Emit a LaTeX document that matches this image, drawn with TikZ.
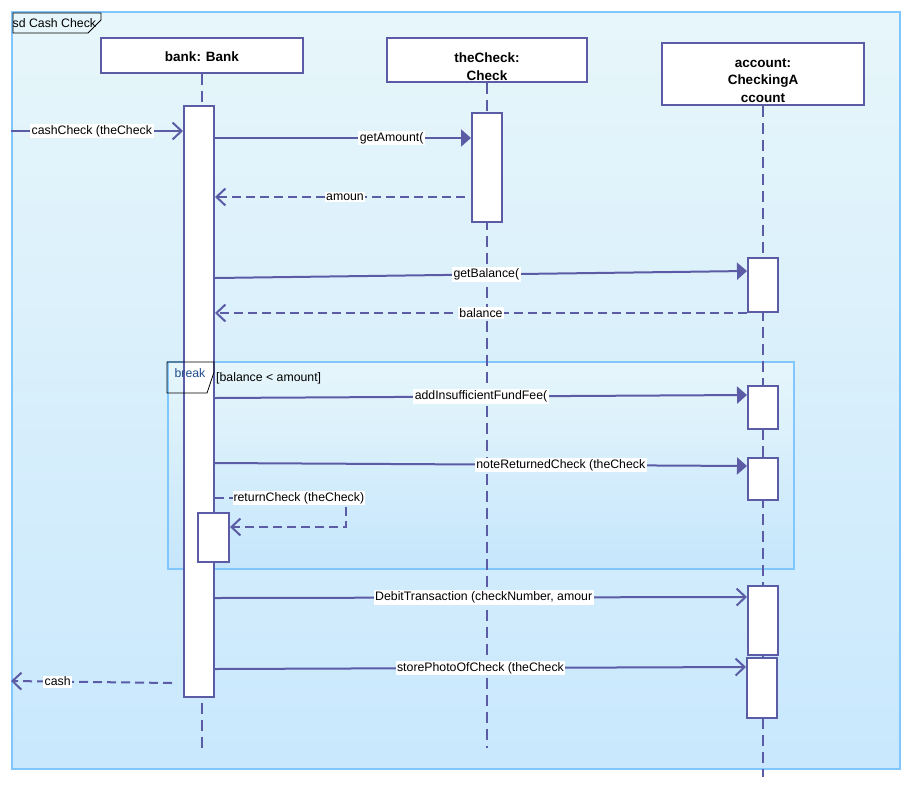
\documentclass[tikz,border=0pt]{standalone}
\usepackage{fontspec}
\setmainfont{Liberation Sans}
\usetikzlibrary{arrows.meta,calc}
\definecolor{ln}{HTML}{5B5BA6}
\definecolor{fr}{HTML}{80C6FF}
\definecolor{bgtop}{HTML}{E7F6FA}
\definecolor{bgbot}{HTML}{C9E8FD}
\definecolor{bktop}{HTML}{E6F6FB}
\definecolor{bkbot}{HTML}{C6E6FC}
\definecolor{brk}{HTML}{1F4E8C}
\begin{document}
\begin{tikzpicture}[x=1pt,y=-1pt,
 head/.style={draw=ln, line width=2pt, fill=white, inner sep=0pt},
 headtxt/.style={font=\fontsize{13.5}{17.5}\selectfont\bfseries, align=center, inner sep=0pt},
 act/.style={draw=ln, line width=2pt, fill=white, minimum width=30pt, inner sep=0pt, anchor=north},
 life/.style={draw=ln, line width=2pt, dash pattern=on 11pt off 6pt},
 msg/.style={draw=ln, line width=2pt, -{Triangle[length=10pt,width=17pt]}},
 amsg/.style={draw=ln, line width=2pt, -{Straight Barb[length=9pt,width=17pt]}},
 ret/.style={draw=ln, line width=2pt, dash pattern=on 9pt off 5pt, -{Straight Barb[length=9pt,width=17pt]}},
 lbl/.style={fill=white, inner sep=1.5pt, font=\fontsize{12.3}{14}\selectfont, text=black},
 tag/.style={draw=black, line width=0.8pt}]
\useasboundingbox (0,0) rectangle (910,788);
% outer frame
\node[draw=fr, line width=2pt, top color=bgtop, bottom color=bgbot, minimum width=888pt, minimum height=757pt, anchor=north west, inner sep=0pt] (frame) at (11,11) {};
\draw[tag] (13,13) -- (101,13) -- (101,20) -- (88,33) -- (13,33) -- cycle;
\node[anchor=west, inner sep=0pt, font=\fontsize{12.3}{14}\selectfont] (sdl) at (12.5,23) {sd Cash Check};
% break frame
\node[draw=fr, line width=1.8pt, top color=bktop, bottom color=bkbot, minimum width=626pt, minimum height=207pt, anchor=north west, inner sep=0pt] (brkf) at (167,361) {};
% heads
\node[head, minimum width=202pt, minimum height=35pt] (bank) at (202,55.5) {};
\node[headtxt] (bankt) at (202,56.5) {bank: Bank};
\node[head, minimum width=200pt, minimum height=44pt] (check) at (487,59.5) {};
\node[headtxt] (checkt) at (487,66.5) {theCheck:\\Check};
\node[head, minimum width=202pt, minimum height=62pt] (acct) at (763,74) {};
\node[headtxt] (acctt) at (763,80.5) {account:\\CheckingA\\ccount};
% lifelines
\coordinate (bankEnd) at (202,748);
\coordinate (checkEnd) at (487,748);
\coordinate (acctEnd) at (763,777);
\draw[life] (bank.south) -- (bankEnd);
\draw[life] (check.south) -- (checkEnd);
\draw[life] (acct.south) -- (acctEnd);
% activations
\node[act, minimum height=591pt] (bankA) at (199,105) {};
\node[act, minimum height=49pt, minimum width=31pt] (bankB) at (213.5,512) {};
\node[act, minimum height=109pt] (checkA) at (487,112) {};
\node[act, minimum height=54pt] (acct1) at (763,257) {};
\node[act, minimum height=43pt] (acct2) at (763,385) {};
\node[act, minimum height=42pt] (acct3) at (763,457) {};
\node[act, minimum height=69pt] (acct4) at (763,585) {};
\node[act, minimum height=60pt] (acct5) at (762,657) {};
% break tag
\draw[tag] (167,362) -- (214,362) -- (214,372) -- (207,393) -- (167,393) -- cycle;
\node[inner sep=0pt, text=brk, font=\fontsize{12.3}{14}\selectfont] (brkl) at (190,373) {break};
\node[anchor=west, inner sep=0pt, font=\fontsize{12.3}{14}\selectfont] (guard) at (216,378.5) {[balance < amount]};
% messages
\coordinate (ent) at (11,131);
\draw[amsg] (ent) -- (bankA.west |- ent) node[lbl, pos=0.47] (l1) {cashCheck (theCheck};
\draw[msg] ($(bankA.north east)+(0,33)$) -- ($(checkA.north west)+(0,26)$) node[lbl, pos=0.69] (l2) {getAmount(};
\coordinate (retA) at (465,197);
\draw[ret] (retA) -- (bankA.east |- retA) node[lbl, pos=0.48] (l3) {amoun};
\draw[msg] ($(bankA.north east)+(0,173)$) -- ($(acct1.north west)+(0,14)$) node[lbl, pos=0.51] (l4) {getBalance(};
\draw[ret] ($(acct1.south west)+(0,0)$) -- ($(bankA.north east)+(0,208)$) node[lbl, pos=0.5] (l5) {balance};
\draw[msg] ($(bankA.north east)+(0,293)$) -- ($(acct2.north west)+(0,10)$) node[lbl, pos=0.5] (l6) {addInsufficientFundFee(};
\draw[msg] ($(bankA.north east)+(0,358)$) -- ($(acct3.north west)+(0,9)$) node[lbl, pos=0.65] (l7) {noteReturnedCheck (theCheck};
\coordinate (selfA) at (346,498);
\coordinate (selfB) at (346,527);
\draw[ret] (bankA.east |- selfA) -- (selfA) node[lbl, pos=0.64, inner sep=1pt] (l8) {returnCheck (theCheck)} -- (selfB) -- (bankB.east |- selfB);
\draw[amsg] ($(bankA.north east)+(0,493)$) -- ($(acct4.north west)+(0,12)$) node[lbl, pos=0.505] (l9) {DebitTransaction (checkNumber, amour};
\draw[amsg] ($(bankA.north east)+(0,564)$) -- ($(acct5.north west)+(0,10)$) node[lbl, pos=0.5] (l10) {storePhotoOfCheck (theCheck};
\coordinate (cashS) at (172,683);
\coordinate (cashE) at (11,681);
\draw[ret] (cashS) -- (cashE) node[lbl, pos=0.71] (l11) {cash};
\end{tikzpicture}
\end{document}
